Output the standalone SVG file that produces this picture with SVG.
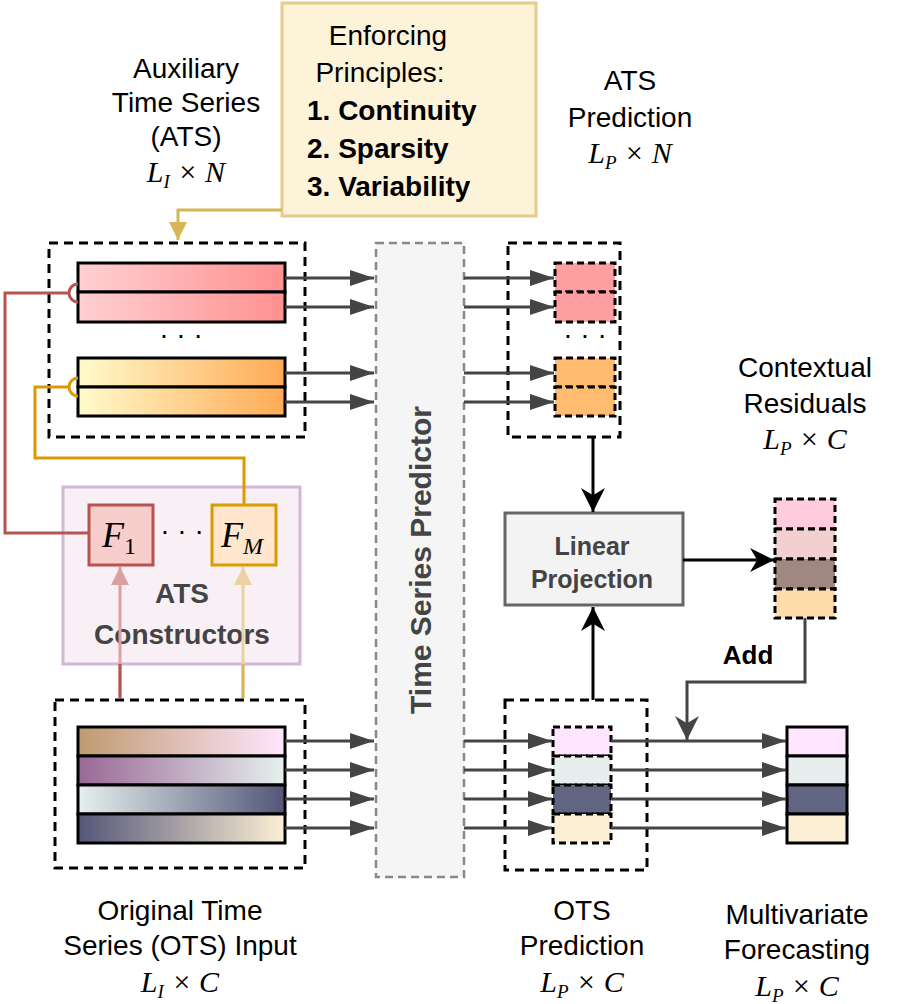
<svg xmlns="http://www.w3.org/2000/svg" width="897" height="1004" viewBox="0 0 897 1004">
<style>
.t{font-family:"Liberation Sans",Arial,sans-serif;font-size:28px;fill:#000;text-anchor:middle}
.l{text-anchor:start}
.b{font-weight:bold}
.g{fill:#444}
.m{font-family:"Liberation Serif","Times New Roman",serif;font-style:italic;font-size:30px;text-anchor:middle}
.s{font-size:19px}
.dash{fill:none;stroke:#000;stroke-width:3;stroke-dasharray:9 6}
.bar{stroke:#000;stroke-width:3}
.sb{stroke:#000;stroke-width:3;stroke-dasharray:7 4}
.ak{stroke:#000;stroke-width:3;fill:none;marker-end:url(#ak)}
</style>
<defs>
<marker id="ah2" viewBox="0 0 24 16" refX="24" refY="8" markerWidth="24" markerHeight="16" markerUnits="userSpaceOnUse" orient="auto"><path d="M0,0L24,8L0,16z" fill="#444"/></marker>
<marker id="ak" viewBox="0 0 10 10" refX="10" refY="5" markerWidth="24" markerHeight="24" markerUnits="userSpaceOnUse" orient="auto"><path d="M0,0L10,5L0,10L3,5z" fill="#000"/></marker>
<marker id="ag" viewBox="0 0 10 10" refX="10" refY="5" markerWidth="24" markerHeight="24" markerUnits="userSpaceOnUse" orient="auto"><path d="M0,0L10,5L0,10L3,5z" fill="#444"/></marker>
<marker id="ay" viewBox="0 0 10 10" refX="10" refY="5" markerWidth="18" markerHeight="18" markerUnits="userSpaceOnUse" orient="auto"><path d="M0,0L10,5L0,10z" fill="#d6b656"/></marker>
<marker id="ar1" viewBox="0 0 10 10" refX="10" refY="5" markerWidth="20" markerHeight="18" markerUnits="userSpaceOnUse" orient="auto"><path d="M0,0L10,5L0,10z" fill="#dca0a0"/></marker>
<marker id="ar2" viewBox="0 0 10 10" refX="10" refY="5" markerWidth="20" markerHeight="18" markerUnits="userSpaceOnUse" orient="auto"><path d="M0,0L10,5L0,10z" fill="#ead2a2"/></marker>
<linearGradient id="gr"><stop offset="0" stop-color="#ffd0d2"/><stop offset="1" stop-color="#ff9090"/></linearGradient>
<linearGradient id="go"><stop offset="0" stop-color="#fffbcc"/><stop offset="1" stop-color="#ffaa55"/></linearGradient>
<linearGradient id="g1"><stop offset="0" stop-color="#bf9a70"/><stop offset="1" stop-color="#ffe6ff"/></linearGradient>
<linearGradient id="g2"><stop offset="0" stop-color="#9a6896"/><stop offset="1" stop-color="#e6f0ee"/></linearGradient>
<linearGradient id="g3"><stop offset="0" stop-color="#e6f0ee"/><stop offset="1" stop-color="#545678"/></linearGradient>
<linearGradient id="g4"><stop offset="0" stop-color="#545678"/><stop offset="1" stop-color="#fdf0d5"/></linearGradient>
</defs>

<g id="labels">
<text class="t" x="186" y="78">Auxiliary</text>
<text class="t" x="186" y="112">Time Series</text>
<text class="t" x="186" y="146">(ATS)</text>
<text class="m" x="186" y="182">L<tspan class="s" dy="6">I</tspan><tspan dy="-6"> × N</tspan></text>
<text class="t" x="630" y="90">ATS</text>
<text class="t" x="630" y="127">Prediction</text>
<text class="m" x="630" y="163">L<tspan class="s" dy="6">P</tspan><tspan dy="-6"> × N</tspan></text>
<text class="t" x="805" y="377">Contextual</text>
<text class="t" x="805" y="413">Residuals</text>
<text class="m" x="805" y="449">L<tspan class="s" dy="6">P</tspan><tspan dy="-6"> × C</tspan></text>
<text class="t" x="180" y="920">Original Time</text>
<text class="t" x="180" y="955">Series (OTS) Input</text>
<text class="m" x="180" y="992">L<tspan class="s" dy="6">I</tspan><tspan dy="-6"> × C</tspan></text>
<text class="t" x="582" y="920">OTS</text>
<text class="t" x="582" y="955">Prediction</text>
<text class="m" x="582" y="992">L<tspan class="s" dy="6">P</tspan><tspan dy="-6"> × C</tspan></text>
<text class="t" x="797" y="924">Multivariate</text>
<text class="t" x="797" y="959">Forecasting</text>
<text class="m" x="797" y="996">L<tspan class="s" dy="6">P</tspan><tspan dy="-6"> × C</tspan></text>
<text class="t b" x="748" y="664" style="font-size:26px">Add</text>
</g>

<g id="principles">
<rect x="282" y="3" width="254" height="213" fill="#fdf3d9" stroke="#e3cc8e" stroke-width="3"/>
<text class="t" x="388" y="45">Enforcing</text>
<text class="t" x="380" y="82">Principles:</text>
<text class="t b l" x="307" y="120">1. Continuity</text>
<text class="t b l" x="307" y="158">2. Sparsity</text>
<text class="t b l" x="307" y="196">3. Variability</text>
</g>

<g id="ats-input">
<rect class="dash" x="49" y="243" width="256" height="194"/>
<rect class="bar" x="78" y="263" width="207" height="29" fill="url(#gr)"/>
<rect class="bar" x="78" y="292" width="207" height="30" fill="url(#gr)"/>
<text class="t" x="181" y="344">· · ·</text>
<rect class="bar" x="78" y="358" width="207" height="29" fill="url(#go)"/>
<rect class="bar" x="78" y="387" width="207" height="29" fill="url(#go)"/>
</g>

<g id="constructors">
<rect x="63" y="487" width="237" height="177" fill="#f8f0f4" stroke="#d5b5d8" stroke-width="3"/>
<rect x="89" y="505" width="64" height="60" fill="#f8cecc" stroke="#b85450" stroke-width="3"/>
<text class="m" x="119" y="547" style="font-size:36px">F<tspan style="font-size:24px;font-style:normal" dy="7">1</tspan></text>
<rect x="212" y="505" width="64" height="60" fill="#ffe6cc" stroke="#d99b00" stroke-width="3"/>
<text class="m" x="242" y="547" style="font-size:36px">F<tspan style="font-size:24px" dy="7">M</tspan></text>
<text class="t" x="182" y="540">· · ·</text>
<text class="t b g" x="182" y="603">ATS</text>
<text class="t b g" x="182" y="644">Constructors</text>
</g>

<g id="ots-input">
<rect class="dash" x="55" y="700" width="250" height="168"/>
<rect class="bar" x="78" y="727" width="207" height="29" fill="url(#g1)"/>
<rect class="bar" x="78" y="756" width="207" height="29" fill="url(#g2)"/>
<rect class="bar" x="78" y="785" width="207" height="29" fill="url(#g3)"/>
<rect class="bar" x="78" y="814" width="207" height="29" fill="url(#g4)"/>
</g>

<g id="predictor">
<rect x="376" y="243" width="88" height="634" fill="#f5f5f5" stroke="#888" stroke-width="2.5" stroke-dasharray="8 5"/>
<text class="t b g" transform="translate(431,560) rotate(-90)" style="font-size:30px">Time Series Predictor</text>
</g>

<g id="ats-pred">
<rect class="dash" x="508" y="243" width="112" height="194"/>
<rect class="sb" x="555" y="263" width="60" height="29" fill="#ff9ea0"/>
<rect class="sb" x="555" y="292" width="60" height="30" fill="#ff9ea0"/>
<text class="t" x="585" y="344">· · ·</text>
<rect class="sb" x="555" y="358" width="60" height="29" fill="#ffbb70"/>
<rect class="sb" x="555" y="387" width="60" height="29" fill="#ffbb70"/>
</g>

<g id="linear">
<rect x="505" y="513" width="178" height="92" fill="#f3f3f3" stroke="#666" stroke-width="3"/>
<text class="t b g" x="592" y="555" style="font-size:25px">Linear</text>
<text class="t b g" x="592" y="588" style="font-size:25px">Projection</text>
</g>

<g id="residuals">
<rect class="sb" x="775" y="499" width="60" height="30" fill="#ffccdd"/>
<rect class="sb" x="775" y="529" width="60" height="30" fill="#f2d0d0"/>
<rect class="sb" x="775" y="559" width="60" height="30" fill="#a08880"/>
<rect class="sb" x="775" y="589" width="60" height="29" fill="#fddcaa"/>
</g>

<g id="ots-pred">
<rect class="dash" x="505" y="700" width="142" height="170"/>
<rect class="sb" x="553" y="727" width="58" height="29" fill="#ffe6ff"/>
<rect class="sb" x="553" y="756" width="58" height="29" fill="#e8eeee"/>
<rect class="sb" x="553" y="785" width="58" height="29" fill="#626582"/>
<rect class="sb" x="553" y="814" width="58" height="29" fill="#fbefd6"/>
</g>

<g id="forecast">
<rect class="bar" x="787" y="727" width="60" height="29" fill="#ffe6ff"/>
<rect class="bar" x="787" y="756" width="60" height="29" fill="#e8eeee"/>
<rect class="bar" x="787" y="785" width="60" height="29" fill="#626582"/>
<rect class="bar" x="787" y="814" width="60" height="29" fill="#fbefd6"/>
</g>

<g id="connectors">
<path d="M282,210H178V240" stroke="#d6b656" stroke-width="3" fill="none" marker-end="url(#ay)"/>
<path d="M89,533H5V293H68" stroke="#b85450" stroke-width="3" fill="none"/>
<path d="M78,284a9,9 0 0 0 0,18" stroke="#b85450" stroke-width="3" fill="none"/>
<path d="M244,505V458H35V387H68" stroke="#d99b00" stroke-width="3" fill="none"/>
<path d="M78,378a9,9 0 0 0 0,18" stroke="#d99b00" stroke-width="3" fill="none"/>
<path d="M120,698V567" stroke="#dca0a0" stroke-width="3" marker-end="url(#ar1)"/>
<path d="M120,698V664" stroke="#b85450" stroke-width="3"/>
<path d="M243,698V567" stroke="#ead2a2" stroke-width="3" marker-end="url(#ar2)"/>
<path d="M243,698V664" stroke="#d6b656" stroke-width="3"/>
<g stroke="#444" stroke-width="3" fill="none" marker-end="url(#ah2)">
<path d="M285,278H374"/><path d="M285,307H374"/><path d="M285,373H374"/><path d="M285,402H374"/>
<path d="M285,741H374"/><path d="M285,770H374"/><path d="M285,799H374"/><path d="M285,828H374"/>
<path d="M464,278H554"/><path d="M464,307H554"/><path d="M464,373H554"/><path d="M464,402H554"/>
<path d="M464,741H552"/><path d="M464,770H552"/><path d="M464,799H552"/><path d="M464,828H552"/>
<path d="M611,741H786"/><path d="M611,770H786"/><path d="M611,799H786"/><path d="M611,828H786"/>
</g>
<path class="ak" d="M593,437V512"/>
<path class="ak" d="M593,700V607"/>
<path class="ak" d="M683,560H774"/>
<path d="M805,618V682H687V740" stroke="#444" stroke-width="3" fill="none" marker-end="url(#ag)"/>
</g>
</svg>
